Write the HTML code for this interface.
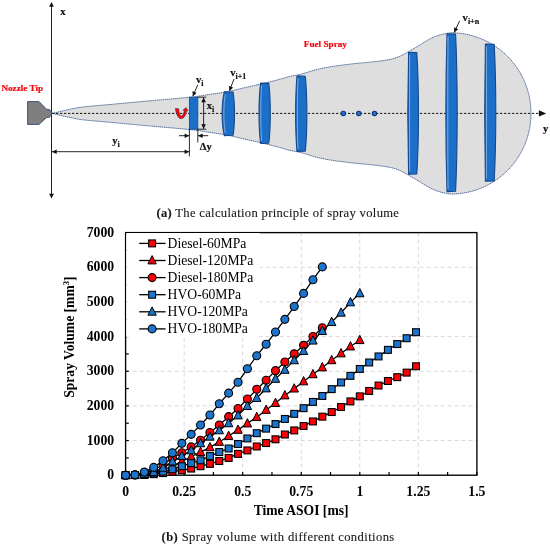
<!DOCTYPE html>
<html><head><meta charset="utf-8"><title>Spray volume</title>
<style>html,body{margin:0;padding:0;background:#fff}svg text{white-space:pre}</style></head>
<body>
<svg width="550" height="548" viewBox="0 0 550 548" style="display:block">
<rect width="550" height="548" fill="#fff"/>
<defs><marker id="ah" viewBox="0 0 10 10" refX="10" refY="5" markerWidth="5.2" markerHeight="4.6" markerUnits="userSpaceOnUse" orient="auto-start-reverse"><path d="M0,0L10,5L0,10Z" fill="#111"/></marker></defs>
<g font-family="'Liberation Serif',serif" font-weight="bold" stroke="#111" stroke-width="0">
<path d="M52.00,113.40 C53.00,113.17 55.92,112.48 58.00,112.00 C60.08,111.52 62.17,111.02 64.50,110.50 C66.83,109.98 68.97,109.48 72.00,108.90 C75.03,108.32 76.37,107.73 82.70,107.00 C89.03,106.27 98.78,105.53 110.00,104.50 C121.22,103.47 136.67,102.02 150.00,100.80 C163.33,99.58 180.00,98.27 190.00,97.20 C200.00,96.13 203.67,95.35 210.00,94.40 C216.33,93.45 222.00,92.67 228.00,91.50 C234.00,90.33 239.83,88.80 246.00,87.40 C252.17,86.00 259.33,84.47 265.00,83.10 C270.67,81.73 275.83,80.32 280.00,79.20 C284.17,78.08 286.50,77.23 290.00,76.40 C293.50,75.57 296.77,75.28 301.00,74.20 C305.23,73.12 310.90,71.07 315.40,69.90 C319.90,68.73 323.75,67.97 328.00,67.20 C332.25,66.43 336.73,65.87 340.90,65.30 C345.07,64.73 348.77,64.27 353.00,63.80 C357.23,63.33 361.80,62.97 366.30,62.50 C370.80,62.03 375.75,61.58 380.00,61.00 C384.25,60.42 388.47,59.80 391.80,59.00 C395.13,58.20 397.03,57.53 400.00,56.20 C402.97,54.87 406.27,52.88 409.60,51.00 C412.93,49.12 416.60,46.92 420.00,44.90 C423.40,42.88 426.67,40.57 430.00,38.90 C433.33,37.23 436.50,35.92 440.00,34.90 C443.50,33.88 448.00,33.10 451.00,32.80 C454.00,32.50 455.66,32.90 457.97,33.11 C460.29,33.31 462.60,33.62 464.89,34.02 C467.18,34.43 469.46,34.94 471.71,35.55 C473.95,36.15 476.18,36.86 478.36,37.66 C480.55,38.46 482.70,39.36 484.81,40.35 C486.92,41.34 488.99,42.43 491.00,43.60 C493.01,44.77 494.98,46.03 496.89,47.38 C498.79,48.72 500.64,50.15 502.42,51.66 C504.20,53.16 505.93,54.75 507.57,56.41 C509.21,58.06 510.79,59.80 512.28,61.59 C513.78,63.39 515.20,65.25 516.53,67.17 C517.87,69.09 519.12,71.07 520.28,73.10 C521.44,75.13 522.52,77.21 523.50,79.34 C524.49,81.46 525.38,83.63 526.18,85.83 C526.97,88.03 527.67,90.28 528.27,92.54 C528.88,94.80 529.38,97.10 529.78,99.40 C530.19,101.71 530.49,104.04 530.70,106.38 C530.90,108.71 531.00,111.06 531.00,113.40 C531.00,115.74 530.90,118.09 530.70,120.42 C530.49,122.76 530.19,125.09 529.78,127.40 C529.38,129.70 528.88,132.00 528.27,134.26 C527.67,136.52 526.97,138.77 526.18,140.97 C525.38,143.17 524.49,145.34 523.50,147.46 C522.52,149.59 521.44,151.67 520.28,153.70 C519.12,155.73 517.87,157.71 516.53,159.63 C515.20,161.55 513.78,163.41 512.28,165.21 C510.79,167.00 509.21,168.74 507.57,170.39 C505.93,172.05 504.20,173.64 502.42,175.14 C500.64,176.65 498.79,178.08 496.89,179.42 C494.98,180.77 493.01,182.03 491.00,183.20 C488.99,184.37 486.92,185.46 484.81,186.45 C482.70,187.44 480.55,188.34 478.36,189.14 C476.18,189.94 473.95,190.65 471.71,191.25 C469.46,191.86 467.18,192.37 464.89,192.78 C462.60,193.18 460.29,193.49 457.97,193.69 C455.66,193.90 454.00,194.30 451.00,194.00 C448.00,193.70 443.50,192.92 440.00,191.90 C436.50,190.88 433.33,189.57 430.00,187.90 C426.67,186.23 423.40,183.92 420.00,181.90 C416.60,179.88 412.93,177.68 409.60,175.80 C406.27,173.92 402.97,171.93 400.00,170.60 C397.03,169.27 395.13,168.60 391.80,167.80 C388.47,167.00 384.25,166.38 380.00,165.80 C375.75,165.22 370.80,164.77 366.30,164.30 C361.80,163.83 357.23,163.47 353.00,163.00 C348.77,162.53 345.07,162.07 340.90,161.50 C336.73,160.93 332.25,160.37 328.00,159.60 C323.75,158.83 319.90,158.07 315.40,156.90 C310.90,155.73 305.23,153.68 301.00,152.60 C296.77,151.52 293.50,151.23 290.00,150.40 C286.50,149.57 284.17,148.72 280.00,147.60 C275.83,146.48 270.67,145.07 265.00,143.70 C259.33,142.33 252.17,140.80 246.00,139.40 C239.83,138.00 234.00,136.47 228.00,135.30 C222.00,134.13 216.33,133.35 210.00,132.40 C203.67,131.45 200.00,130.67 190.00,129.60 C180.00,128.53 163.33,127.22 150.00,126.00 C136.67,124.78 121.22,123.33 110.00,122.30 C98.78,121.27 89.03,120.53 82.70,119.80 C76.37,119.07 75.03,118.48 72.00,117.90 C68.97,117.32 66.83,116.82 64.50,116.30 C62.17,115.78 60.08,115.28 58.00,114.80 C55.92,114.32 53.00,113.63 52.00,113.40Z" fill="#dedede" stroke="#34548a" stroke-width="0.8" stroke-dasharray="1.5,0.5"/>
<line x1="52" y1="113.4" x2="539" y2="113.4" stroke="#111" stroke-width="1" stroke-dasharray="2.3,1.7"/>
<path d="M546.2,113.4 L538.9,110.2 L538.9,116.6 Z" fill="#111"/>
<line x1="51.5" y1="6" x2="51.5" y2="194.5" stroke="#222" stroke-width="1"/>
<path d="M51.5,2 L49.1,6.7 L53.9,6.7 Z" fill="#111"/>
<path d="M51.5,198.4 L49.1,193.7 L53.9,193.7 Z" fill="#111"/>
<path d="M27.6,101.6 L39,101.6 L46.6,109.3 L49.5,109.6 L51.6,112.3 L51.6,114.5 L49.5,117.2 L46.6,117.5 L39,124.4 L27.6,124.4 Z" fill="#7f7f7f" stroke="#2c4a78" stroke-width="0.9" stroke-linejoin="round"/>
<rect x="189.4" y="97.2" width="8.4" height="32" fill="#1c6fc9" stroke="#1b4f8f" stroke-width="0.9"/>
<path d="M224.30,91.80 L233.10,92.10 C234.97,104.06 234.97,123.34 233.10,135.30 L224.30,135.60 C221.37,123.34 221.37,104.06 224.30,91.80 Z" fill="#1c6fc9" stroke="#17478a" stroke-width="1.1" stroke-linejoin="round"/><path d="M225.30,94.30 C223.37,104.94 223.37,122.46 225.30,133.10" fill="none" stroke="#8fbcec" stroke-width="0.8"/>
<path d="M260.60,83.10 L268.80,83.40 C270.80,100.01 270.80,126.59 268.80,143.20 L260.60,143.50 C258.47,126.59 258.47,100.01 260.60,83.10 Z" fill="#1c6fc9" stroke="#17478a" stroke-width="1.1" stroke-linejoin="round"/><path d="M261.60,85.60 C260.47,101.22 260.47,125.38 261.60,141.00" fill="none" stroke="#8fbcec" stroke-width="0.8"/>
<path d="M297.00,75.90 L305.30,76.20 C307.43,97.04 307.43,130.26 305.30,151.10 L297.00,151.40 C295.13,130.26 295.13,97.04 297.00,75.90 Z" fill="#1c6fc9" stroke="#17478a" stroke-width="1.1" stroke-linejoin="round"/><path d="M298.00,78.40 C297.13,98.55 297.13,128.75 298.00,148.90" fill="none" stroke="#8fbcec" stroke-width="0.8"/>
<path d="M408.60,52.20 L416.80,52.50 C419.07,86.39 419.07,140.11 416.80,174.00 L408.60,174.30 C407.67,140.11 407.67,86.39 408.60,52.20 Z" fill="#1c6fc9" stroke="#17478a" stroke-width="1.1" stroke-linejoin="round"/><path d="M409.60,54.70 C409.67,88.83 409.67,137.67 409.60,171.80" fill="none" stroke="#8fbcec" stroke-width="0.8"/>
<path d="M447.00,33.80 L455.60,34.10 C457.73,77.98 457.73,147.42 455.60,191.30 L447.00,191.60 C445.67,147.42 445.67,77.98 447.00,33.80 Z" fill="#1c6fc9" stroke="#17478a" stroke-width="1.1" stroke-linejoin="round"/><path d="M448.00,36.30 C447.67,81.14 447.67,144.26 448.00,189.10" fill="none" stroke="#8fbcec" stroke-width="0.8"/>
<path d="M485.40,44.00 L494.20,44.30 C496.33,82.42 496.33,142.78 494.20,180.90 L485.40,181.20 C484.60,142.78 484.60,82.42 485.40,44.00 Z" fill="#1c6fc9" stroke="#17478a" stroke-width="1.1" stroke-linejoin="round"/><path d="M486.40,46.50 C486.60,85.16 486.60,140.04 486.40,178.70" fill="none" stroke="#8fbcec" stroke-width="0.8"/>
<circle cx="343.3" cy="113.4" r="2.2" fill="#1e78dc" stroke="#14336e" stroke-width="1.1"/>
<circle cx="358.8" cy="113.4" r="2.2" fill="#1e78dc" stroke="#14336e" stroke-width="1.1"/>
<circle cx="374.5" cy="113.4" r="2.2" fill="#1e78dc" stroke="#14336e" stroke-width="1.1"/>
<g stroke="#111" stroke-width="0.9" fill="none">
<line x1="197.8" y1="97.2" x2="206.2" y2="97.2"/><line x1="197.8" y1="129.2" x2="206.2" y2="129.2"/>
<line x1="203.6" y1="97.6" x2="203.6" y2="128.8" marker-start="url(#ah)" marker-end="url(#ah)"/>
<line x1="189.4" y1="129" x2="189.4" y2="156.4"/><line x1="197.8" y1="129" x2="197.8" y2="142.4"/>
<line x1="179" y1="135.7" x2="189.2" y2="135.7" marker-end="url(#ah)"/>
<line x1="208.2" y1="135.7" x2="198" y2="135.7" marker-end="url(#ah)"/>
<line x1="52" y1="151.7" x2="189.2" y2="151.7" marker-start="url(#ah)" marker-end="url(#ah)"/>
<line x1="197.8" y1="84.8" x2="192.8" y2="96.2" marker-end="url(#ah)"/>
<line x1="234" y1="79" x2="229.4" y2="91" marker-end="url(#ah)"/>
<line x1="459.6" y1="20.8" x2="454.2" y2="32.4" marker-end="url(#ah)"/>
</g>
<path d="M175.3,108.4 C175.9,113.6 178.4,118.7 181,118.7 C183.6,118.7 186.1,115.2 186.7,110.7 L188.1,110.9 L186.1,107.6 L182.8,110.3 L184.3,110.5 C183.9,113.4 182.6,115.8 181,116.2 C179.7,115.4 178.9,112 178.7,108.7 Z" fill="#ff0000" stroke="#1f3864" stroke-width="0.5" stroke-linejoin="round"/>
<text x="60.3" y="14.9" font-size="10.6" fill="#111" stroke-width="0.18">x</text>
<text x="543" y="132.2" font-size="10.6" fill="#111" stroke-width="0.18">y</text>
<text x="1.4" y="91" font-size="9.2" fill="#f4060c" stroke="#f4060c" stroke-width="0.2">Nozzle Tip</text>
<text x="303.8" y="46.6" font-size="9.2" fill="#f4060c" stroke="#f4060c" stroke-width="0.2">Fuel Spray</text>
<text x="112.2" y="143.6" font-size="10.6" fill="#111" stroke-width="0.18">y<tspan font-size="8" dy="2.9">i</tspan></text>
<text x="196" y="83.1" font-size="10.6" fill="#111" stroke-width="0.18">v<tspan font-size="8" dy="2.9">i</tspan></text>
<text x="206.8" y="109.4" font-size="10.6" fill="#111" stroke-width="0.18">x<tspan font-size="8" dy="2.9">i</tspan></text>
<text x="199.8" y="150.1" font-size="10.6" fill="#111" stroke-width="0.18">Δy</text>
<text x="230.2" y="75.7" font-size="10.6" fill="#111" stroke-width="0.18">v<tspan font-size="8" dy="2.9">i+1</tspan></text>
<text x="462.6" y="20.7" font-size="10.6" fill="#111" stroke-width="0.18">v<tspan font-size="8" dy="2.9">i+n</tspan></text>
</g>
<g font-family="'Liberation Serif',serif">
<g stroke="#d9d9d9" stroke-width="1" stroke-dasharray="4,3" fill="none">
<line x1="125.6" y1="440.54" x2="476.9" y2="440.54"/>
<line x1="125.6" y1="405.89" x2="476.9" y2="405.89"/>
<line x1="125.6" y1="371.23" x2="476.9" y2="371.23"/>
<line x1="125.6" y1="336.57" x2="476.9" y2="336.57"/>
<line x1="125.6" y1="301.91" x2="476.9" y2="301.91"/>
<line x1="125.6" y1="267.26" x2="476.9" y2="267.26"/>
<line x1="184.15" y1="232.6" x2="184.15" y2="475.2"/>
<line x1="242.70" y1="232.6" x2="242.70" y2="475.2"/>
<line x1="301.25" y1="232.6" x2="301.25" y2="475.2"/>
<line x1="359.80" y1="232.6" x2="359.80" y2="475.2"/>
<line x1="418.35" y1="232.6" x2="418.35" y2="475.2"/>
</g>
<g stroke="#000" stroke-width="1.2">
<line x1="125.6" y1="475.20" x2="128.8" y2="475.20"/>
<line x1="125.6" y1="457.87" x2="128.8" y2="457.87"/>
<line x1="125.6" y1="440.54" x2="128.8" y2="440.54"/>
<line x1="125.6" y1="423.21" x2="128.8" y2="423.21"/>
<line x1="125.6" y1="405.89" x2="128.8" y2="405.89"/>
<line x1="125.6" y1="388.56" x2="128.8" y2="388.56"/>
<line x1="125.6" y1="371.23" x2="128.8" y2="371.23"/>
<line x1="125.6" y1="353.90" x2="128.8" y2="353.90"/>
<line x1="125.6" y1="336.57" x2="128.8" y2="336.57"/>
<line x1="125.6" y1="319.24" x2="128.8" y2="319.24"/>
<line x1="125.6" y1="301.91" x2="128.8" y2="301.91"/>
<line x1="125.6" y1="284.59" x2="128.8" y2="284.59"/>
<line x1="125.6" y1="267.26" x2="128.8" y2="267.26"/>
<line x1="125.6" y1="249.93" x2="128.8" y2="249.93"/>
<line x1="125.6" y1="232.60" x2="128.8" y2="232.60"/>
<line x1="125.60" y1="475.2" x2="125.60" y2="472.0"/>
<line x1="154.88" y1="475.2" x2="154.88" y2="472.0"/>
<line x1="184.15" y1="475.2" x2="184.15" y2="472.0"/>
<line x1="213.42" y1="475.2" x2="213.42" y2="472.0"/>
<line x1="242.70" y1="475.2" x2="242.70" y2="472.0"/>
<line x1="271.97" y1="475.2" x2="271.97" y2="472.0"/>
<line x1="301.25" y1="475.2" x2="301.25" y2="472.0"/>
<line x1="330.52" y1="475.2" x2="330.52" y2="472.0"/>
<line x1="359.80" y1="475.2" x2="359.80" y2="472.0"/>
<line x1="389.07" y1="475.2" x2="389.07" y2="472.0"/>
<line x1="418.35" y1="475.2" x2="418.35" y2="472.0"/>
<line x1="447.62" y1="475.2" x2="447.62" y2="472.0"/>
<line x1="476.90" y1="475.2" x2="476.90" y2="472.0"/>
</g>
<rect x="125.6" y="232.6" width="351.3" height="242.6" fill="none" stroke="#000" stroke-width="1.35"/>
<polyline points="125.60,475.20 134.97,475.10 144.34,474.85 153.70,474.16 163.07,473.12 172.44,471.73 181.81,470.24 191.18,468.58 200.54,466.22 209.91,463.87 219.28,461.03 228.65,457.94 238.02,453.89 247.38,450.42 256.75,446.47 266.12,443.07 275.49,439.30 284.86,434.51 294.22,430.42 303.59,426.02 312.96,421.45 322.33,416.66 331.70,412.05 341.06,406.99 350.43,401.38 359.80,396.36 369.17,390.98 378.54,385.54 387.90,381.00 397.27,377.15 406.64,372.61 416.01,366.27" fill="none" stroke="#000" stroke-width="1.3"/>
<rect x="122.15" y="471.75" width="6.9" height="6.9" fill="#fb0007" stroke="#000" stroke-width="1.1"/>
<rect x="131.52" y="471.65" width="6.9" height="6.9" fill="#fb0007" stroke="#000" stroke-width="1.1"/>
<rect x="140.89" y="471.40" width="6.9" height="6.9" fill="#fb0007" stroke="#000" stroke-width="1.1"/>
<rect x="150.25" y="470.71" width="6.9" height="6.9" fill="#fb0007" stroke="#000" stroke-width="1.1"/>
<rect x="159.62" y="469.67" width="6.9" height="6.9" fill="#fb0007" stroke="#000" stroke-width="1.1"/>
<rect x="168.99" y="468.28" width="6.9" height="6.9" fill="#fb0007" stroke="#000" stroke-width="1.1"/>
<rect x="178.36" y="466.79" width="6.9" height="6.9" fill="#fb0007" stroke="#000" stroke-width="1.1"/>
<rect x="187.73" y="465.13" width="6.9" height="6.9" fill="#fb0007" stroke="#000" stroke-width="1.1"/>
<rect x="197.09" y="462.77" width="6.9" height="6.9" fill="#fb0007" stroke="#000" stroke-width="1.1"/>
<rect x="206.46" y="460.42" width="6.9" height="6.9" fill="#fb0007" stroke="#000" stroke-width="1.1"/>
<rect x="215.83" y="457.58" width="6.9" height="6.9" fill="#fb0007" stroke="#000" stroke-width="1.1"/>
<rect x="225.20" y="454.49" width="6.9" height="6.9" fill="#fb0007" stroke="#000" stroke-width="1.1"/>
<rect x="234.57" y="450.44" width="6.9" height="6.9" fill="#fb0007" stroke="#000" stroke-width="1.1"/>
<rect x="243.93" y="446.97" width="6.9" height="6.9" fill="#fb0007" stroke="#000" stroke-width="1.1"/>
<rect x="253.30" y="443.02" width="6.9" height="6.9" fill="#fb0007" stroke="#000" stroke-width="1.1"/>
<rect x="262.67" y="439.62" width="6.9" height="6.9" fill="#fb0007" stroke="#000" stroke-width="1.1"/>
<rect x="272.04" y="435.85" width="6.9" height="6.9" fill="#fb0007" stroke="#000" stroke-width="1.1"/>
<rect x="281.41" y="431.06" width="6.9" height="6.9" fill="#fb0007" stroke="#000" stroke-width="1.1"/>
<rect x="290.77" y="426.97" width="6.9" height="6.9" fill="#fb0007" stroke="#000" stroke-width="1.1"/>
<rect x="300.14" y="422.57" width="6.9" height="6.9" fill="#fb0007" stroke="#000" stroke-width="1.1"/>
<rect x="309.51" y="418.00" width="6.9" height="6.9" fill="#fb0007" stroke="#000" stroke-width="1.1"/>
<rect x="318.88" y="413.21" width="6.9" height="6.9" fill="#fb0007" stroke="#000" stroke-width="1.1"/>
<rect x="328.25" y="408.60" width="6.9" height="6.9" fill="#fb0007" stroke="#000" stroke-width="1.1"/>
<rect x="337.61" y="403.54" width="6.9" height="6.9" fill="#fb0007" stroke="#000" stroke-width="1.1"/>
<rect x="346.98" y="397.93" width="6.9" height="6.9" fill="#fb0007" stroke="#000" stroke-width="1.1"/>
<rect x="356.35" y="392.91" width="6.9" height="6.9" fill="#fb0007" stroke="#000" stroke-width="1.1"/>
<rect x="365.72" y="387.53" width="6.9" height="6.9" fill="#fb0007" stroke="#000" stroke-width="1.1"/>
<rect x="375.09" y="382.09" width="6.9" height="6.9" fill="#fb0007" stroke="#000" stroke-width="1.1"/>
<rect x="384.45" y="377.55" width="6.9" height="6.9" fill="#fb0007" stroke="#000" stroke-width="1.1"/>
<rect x="393.82" y="373.70" width="6.9" height="6.9" fill="#fb0007" stroke="#000" stroke-width="1.1"/>
<rect x="403.19" y="369.16" width="6.9" height="6.9" fill="#fb0007" stroke="#000" stroke-width="1.1"/>
<rect x="412.56" y="362.82" width="6.9" height="6.9" fill="#fb0007" stroke="#000" stroke-width="1.1"/>
<polyline points="125.60,475.20 134.97,475.03 144.34,474.33 153.70,472.77 163.07,470.00 172.44,466.19 181.81,461.51 191.18,456.76 200.54,452.05 209.91,447.37 219.28,441.93 228.65,436.04 238.02,429.90 247.38,423.53 256.75,417.15 266.12,409.98 275.49,403.11 284.86,395.49 294.22,388.63 303.59,381.45 312.96,374.35 322.33,367.49 331.70,360.31 341.06,353.45 350.43,346.55 359.80,340.18" fill="none" stroke="#000" stroke-width="1.3"/>
<path d="M125.60,470.30 L129.80,478.60 L121.40,478.60 Z" fill="#fb0007" stroke="#000" stroke-width="1" stroke-linejoin="miter"/>
<path d="M134.97,470.13 L139.17,478.43 L130.77,478.43 Z" fill="#fb0007" stroke="#000" stroke-width="1" stroke-linejoin="miter"/>
<path d="M144.34,469.43 L148.54,477.73 L140.14,477.73 Z" fill="#fb0007" stroke="#000" stroke-width="1" stroke-linejoin="miter"/>
<path d="M153.70,467.87 L157.90,476.17 L149.50,476.17 Z" fill="#fb0007" stroke="#000" stroke-width="1" stroke-linejoin="miter"/>
<path d="M163.07,465.10 L167.27,473.40 L158.87,473.40 Z" fill="#fb0007" stroke="#000" stroke-width="1" stroke-linejoin="miter"/>
<path d="M172.44,461.29 L176.64,469.59 L168.24,469.59 Z" fill="#fb0007" stroke="#000" stroke-width="1" stroke-linejoin="miter"/>
<path d="M181.81,456.61 L186.01,464.91 L177.61,464.91 Z" fill="#fb0007" stroke="#000" stroke-width="1" stroke-linejoin="miter"/>
<path d="M191.18,451.86 L195.38,460.16 L186.98,460.16 Z" fill="#fb0007" stroke="#000" stroke-width="1" stroke-linejoin="miter"/>
<path d="M200.54,447.15 L204.74,455.45 L196.34,455.45 Z" fill="#fb0007" stroke="#000" stroke-width="1" stroke-linejoin="miter"/>
<path d="M209.91,442.47 L214.11,450.77 L205.71,450.77 Z" fill="#fb0007" stroke="#000" stroke-width="1" stroke-linejoin="miter"/>
<path d="M219.28,437.03 L223.48,445.33 L215.08,445.33 Z" fill="#fb0007" stroke="#000" stroke-width="1" stroke-linejoin="miter"/>
<path d="M228.65,431.14 L232.85,439.44 L224.45,439.44 Z" fill="#fb0007" stroke="#000" stroke-width="1" stroke-linejoin="miter"/>
<path d="M238.02,425.00 L242.22,433.30 L233.82,433.30 Z" fill="#fb0007" stroke="#000" stroke-width="1" stroke-linejoin="miter"/>
<path d="M247.38,418.63 L251.58,426.93 L243.18,426.93 Z" fill="#fb0007" stroke="#000" stroke-width="1" stroke-linejoin="miter"/>
<path d="M256.75,412.25 L260.95,420.55 L252.55,420.55 Z" fill="#fb0007" stroke="#000" stroke-width="1" stroke-linejoin="miter"/>
<path d="M266.12,405.08 L270.32,413.38 L261.92,413.38 Z" fill="#fb0007" stroke="#000" stroke-width="1" stroke-linejoin="miter"/>
<path d="M275.49,398.21 L279.69,406.51 L271.29,406.51 Z" fill="#fb0007" stroke="#000" stroke-width="1" stroke-linejoin="miter"/>
<path d="M284.86,390.59 L289.06,398.89 L280.66,398.89 Z" fill="#fb0007" stroke="#000" stroke-width="1" stroke-linejoin="miter"/>
<path d="M294.22,383.73 L298.42,392.03 L290.02,392.03 Z" fill="#fb0007" stroke="#000" stroke-width="1" stroke-linejoin="miter"/>
<path d="M303.59,376.55 L307.79,384.85 L299.39,384.85 Z" fill="#fb0007" stroke="#000" stroke-width="1" stroke-linejoin="miter"/>
<path d="M312.96,369.45 L317.16,377.75 L308.76,377.75 Z" fill="#fb0007" stroke="#000" stroke-width="1" stroke-linejoin="miter"/>
<path d="M322.33,362.59 L326.53,370.89 L318.13,370.89 Z" fill="#fb0007" stroke="#000" stroke-width="1" stroke-linejoin="miter"/>
<path d="M331.70,355.41 L335.90,363.71 L327.50,363.71 Z" fill="#fb0007" stroke="#000" stroke-width="1" stroke-linejoin="miter"/>
<path d="M341.06,348.55 L345.26,356.85 L336.86,356.85 Z" fill="#fb0007" stroke="#000" stroke-width="1" stroke-linejoin="miter"/>
<path d="M350.43,341.65 L354.63,349.95 L346.23,349.95 Z" fill="#fb0007" stroke="#000" stroke-width="1" stroke-linejoin="miter"/>
<path d="M359.80,335.28 L364.00,343.58 L355.60,343.58 Z" fill="#fb0007" stroke="#000" stroke-width="1" stroke-linejoin="miter"/>
<polyline points="125.60,475.20 134.97,474.92 144.34,473.47 153.70,470.00 163.07,464.80 172.44,457.94 181.81,452.78 191.18,446.89 200.54,440.30 209.91,432.50 219.28,424.95 228.65,416.66 238.02,408.49 247.38,399.02 256.75,389.32 266.12,380.24 275.49,370.67 284.86,362.01 294.22,353.83 303.59,345.34 312.96,336.57 322.33,327.80" fill="none" stroke="#000" stroke-width="1.3"/>
<circle cx="125.60" cy="475.20" r="4.0" fill="#fb0007" stroke="#000" stroke-width="1.1"/>
<circle cx="134.97" cy="474.92" r="4.0" fill="#fb0007" stroke="#000" stroke-width="1.1"/>
<circle cx="144.34" cy="473.47" r="4.0" fill="#fb0007" stroke="#000" stroke-width="1.1"/>
<circle cx="153.70" cy="470.00" r="4.0" fill="#fb0007" stroke="#000" stroke-width="1.1"/>
<circle cx="163.07" cy="464.80" r="4.0" fill="#fb0007" stroke="#000" stroke-width="1.1"/>
<circle cx="172.44" cy="457.94" r="4.0" fill="#fb0007" stroke="#000" stroke-width="1.1"/>
<circle cx="181.81" cy="452.78" r="4.0" fill="#fb0007" stroke="#000" stroke-width="1.1"/>
<circle cx="191.18" cy="446.89" r="4.0" fill="#fb0007" stroke="#000" stroke-width="1.1"/>
<circle cx="200.54" cy="440.30" r="4.0" fill="#fb0007" stroke="#000" stroke-width="1.1"/>
<circle cx="209.91" cy="432.50" r="4.0" fill="#fb0007" stroke="#000" stroke-width="1.1"/>
<circle cx="219.28" cy="424.95" r="4.0" fill="#fb0007" stroke="#000" stroke-width="1.1"/>
<circle cx="228.65" cy="416.66" r="4.0" fill="#fb0007" stroke="#000" stroke-width="1.1"/>
<circle cx="238.02" cy="408.49" r="4.0" fill="#fb0007" stroke="#000" stroke-width="1.1"/>
<circle cx="247.38" cy="399.02" r="4.0" fill="#fb0007" stroke="#000" stroke-width="1.1"/>
<circle cx="256.75" cy="389.32" r="4.0" fill="#fb0007" stroke="#000" stroke-width="1.1"/>
<circle cx="266.12" cy="380.24" r="4.0" fill="#fb0007" stroke="#000" stroke-width="1.1"/>
<circle cx="275.49" cy="370.67" r="4.0" fill="#fb0007" stroke="#000" stroke-width="1.1"/>
<circle cx="284.86" cy="362.01" r="4.0" fill="#fb0007" stroke="#000" stroke-width="1.1"/>
<circle cx="294.22" cy="353.83" r="4.0" fill="#fb0007" stroke="#000" stroke-width="1.1"/>
<circle cx="303.59" cy="345.34" r="4.0" fill="#fb0007" stroke="#000" stroke-width="1.1"/>
<circle cx="312.96" cy="336.57" r="4.0" fill="#fb0007" stroke="#000" stroke-width="1.1"/>
<circle cx="322.33" cy="327.80" r="4.0" fill="#fb0007" stroke="#000" stroke-width="1.1"/>
<polyline points="125.60,475.20 134.97,475.03 144.34,474.51 153.70,473.47 163.07,471.73 172.44,469.31 181.81,466.22 191.18,463.14 200.54,460.30 209.91,456.07 219.28,452.05 228.65,448.51 238.02,444.01 247.38,438.46 256.75,433.20 266.12,428.62 275.49,424.05 284.86,418.95 294.22,413.86 303.59,408.17 312.96,401.90 322.33,396.01 331.70,389.15 341.06,382.49 350.43,375.87 359.80,368.94 369.17,362.49 378.54,356.43 387.90,349.85 397.27,344.06 406.64,338.23 416.01,332.20" fill="none" stroke="#000" stroke-width="1.3"/>
<rect x="122.15" y="471.75" width="6.9" height="6.9" fill="#1c74cc" stroke="#000" stroke-width="1.1"/>
<rect x="131.52" y="471.58" width="6.9" height="6.9" fill="#1c74cc" stroke="#000" stroke-width="1.1"/>
<rect x="140.89" y="471.06" width="6.9" height="6.9" fill="#1c74cc" stroke="#000" stroke-width="1.1"/>
<rect x="150.25" y="470.02" width="6.9" height="6.9" fill="#1c74cc" stroke="#000" stroke-width="1.1"/>
<rect x="159.62" y="468.28" width="6.9" height="6.9" fill="#1c74cc" stroke="#000" stroke-width="1.1"/>
<rect x="168.99" y="465.86" width="6.9" height="6.9" fill="#1c74cc" stroke="#000" stroke-width="1.1"/>
<rect x="178.36" y="462.77" width="6.9" height="6.9" fill="#1c74cc" stroke="#000" stroke-width="1.1"/>
<rect x="187.73" y="459.69" width="6.9" height="6.9" fill="#1c74cc" stroke="#000" stroke-width="1.1"/>
<rect x="197.09" y="456.85" width="6.9" height="6.9" fill="#1c74cc" stroke="#000" stroke-width="1.1"/>
<rect x="206.46" y="452.62" width="6.9" height="6.9" fill="#1c74cc" stroke="#000" stroke-width="1.1"/>
<rect x="215.83" y="448.60" width="6.9" height="6.9" fill="#1c74cc" stroke="#000" stroke-width="1.1"/>
<rect x="225.20" y="445.06" width="6.9" height="6.9" fill="#1c74cc" stroke="#000" stroke-width="1.1"/>
<rect x="234.57" y="440.56" width="6.9" height="6.9" fill="#1c74cc" stroke="#000" stroke-width="1.1"/>
<rect x="243.93" y="435.01" width="6.9" height="6.9" fill="#1c74cc" stroke="#000" stroke-width="1.1"/>
<rect x="253.30" y="429.75" width="6.9" height="6.9" fill="#1c74cc" stroke="#000" stroke-width="1.1"/>
<rect x="262.67" y="425.17" width="6.9" height="6.9" fill="#1c74cc" stroke="#000" stroke-width="1.1"/>
<rect x="272.04" y="420.60" width="6.9" height="6.9" fill="#1c74cc" stroke="#000" stroke-width="1.1"/>
<rect x="281.41" y="415.50" width="6.9" height="6.9" fill="#1c74cc" stroke="#000" stroke-width="1.1"/>
<rect x="290.77" y="410.41" width="6.9" height="6.9" fill="#1c74cc" stroke="#000" stroke-width="1.1"/>
<rect x="300.14" y="404.72" width="6.9" height="6.9" fill="#1c74cc" stroke="#000" stroke-width="1.1"/>
<rect x="309.51" y="398.45" width="6.9" height="6.9" fill="#1c74cc" stroke="#000" stroke-width="1.1"/>
<rect x="318.88" y="392.56" width="6.9" height="6.9" fill="#1c74cc" stroke="#000" stroke-width="1.1"/>
<rect x="328.25" y="385.70" width="6.9" height="6.9" fill="#1c74cc" stroke="#000" stroke-width="1.1"/>
<rect x="337.61" y="379.04" width="6.9" height="6.9" fill="#1c74cc" stroke="#000" stroke-width="1.1"/>
<rect x="346.98" y="372.42" width="6.9" height="6.9" fill="#1c74cc" stroke="#000" stroke-width="1.1"/>
<rect x="356.35" y="365.49" width="6.9" height="6.9" fill="#1c74cc" stroke="#000" stroke-width="1.1"/>
<rect x="365.72" y="359.04" width="6.9" height="6.9" fill="#1c74cc" stroke="#000" stroke-width="1.1"/>
<rect x="375.09" y="352.98" width="6.9" height="6.9" fill="#1c74cc" stroke="#000" stroke-width="1.1"/>
<rect x="384.45" y="346.40" width="6.9" height="6.9" fill="#1c74cc" stroke="#000" stroke-width="1.1"/>
<rect x="393.82" y="340.61" width="6.9" height="6.9" fill="#1c74cc" stroke="#000" stroke-width="1.1"/>
<rect x="403.19" y="334.78" width="6.9" height="6.9" fill="#1c74cc" stroke="#000" stroke-width="1.1"/>
<rect x="412.56" y="328.75" width="6.9" height="6.9" fill="#1c74cc" stroke="#000" stroke-width="1.1"/>
<polyline points="125.60,475.20 134.97,475.03 144.34,474.16 153.70,472.08 163.07,467.89 172.44,461.51 181.81,456.07 191.18,450.42 200.54,443.35 209.91,436.73 219.28,430.39 228.65,423.32 238.02,415.52 247.38,406.09 256.75,398.05 266.12,388.49 275.49,378.92 284.86,369.91 294.22,360.35 303.59,351.06 312.96,340.66 322.33,331.10 331.70,322.08 341.06,312.80 350.43,302.40 359.80,293.39" fill="none" stroke="#000" stroke-width="1.3"/>
<path d="M125.60,470.30 L129.80,478.60 L121.40,478.60 Z" fill="#1c74cc" stroke="#000" stroke-width="1" stroke-linejoin="miter"/>
<path d="M134.97,470.13 L139.17,478.43 L130.77,478.43 Z" fill="#1c74cc" stroke="#000" stroke-width="1" stroke-linejoin="miter"/>
<path d="M144.34,469.26 L148.54,477.56 L140.14,477.56 Z" fill="#1c74cc" stroke="#000" stroke-width="1" stroke-linejoin="miter"/>
<path d="M153.70,467.18 L157.90,475.48 L149.50,475.48 Z" fill="#1c74cc" stroke="#000" stroke-width="1" stroke-linejoin="miter"/>
<path d="M163.07,462.99 L167.27,471.29 L158.87,471.29 Z" fill="#1c74cc" stroke="#000" stroke-width="1" stroke-linejoin="miter"/>
<path d="M172.44,456.61 L176.64,464.91 L168.24,464.91 Z" fill="#1c74cc" stroke="#000" stroke-width="1" stroke-linejoin="miter"/>
<path d="M181.81,451.17 L186.01,459.47 L177.61,459.47 Z" fill="#1c74cc" stroke="#000" stroke-width="1" stroke-linejoin="miter"/>
<path d="M191.18,445.52 L195.38,453.82 L186.98,453.82 Z" fill="#1c74cc" stroke="#000" stroke-width="1" stroke-linejoin="miter"/>
<path d="M200.54,438.45 L204.74,446.75 L196.34,446.75 Z" fill="#1c74cc" stroke="#000" stroke-width="1" stroke-linejoin="miter"/>
<path d="M209.91,431.83 L214.11,440.13 L205.71,440.13 Z" fill="#1c74cc" stroke="#000" stroke-width="1" stroke-linejoin="miter"/>
<path d="M219.28,425.49 L223.48,433.79 L215.08,433.79 Z" fill="#1c74cc" stroke="#000" stroke-width="1" stroke-linejoin="miter"/>
<path d="M228.65,418.42 L232.85,426.72 L224.45,426.72 Z" fill="#1c74cc" stroke="#000" stroke-width="1" stroke-linejoin="miter"/>
<path d="M238.02,410.62 L242.22,418.92 L233.82,418.92 Z" fill="#1c74cc" stroke="#000" stroke-width="1" stroke-linejoin="miter"/>
<path d="M247.38,401.19 L251.58,409.49 L243.18,409.49 Z" fill="#1c74cc" stroke="#000" stroke-width="1" stroke-linejoin="miter"/>
<path d="M256.75,393.15 L260.95,401.45 L252.55,401.45 Z" fill="#1c74cc" stroke="#000" stroke-width="1" stroke-linejoin="miter"/>
<path d="M266.12,383.59 L270.32,391.89 L261.92,391.89 Z" fill="#1c74cc" stroke="#000" stroke-width="1" stroke-linejoin="miter"/>
<path d="M275.49,374.02 L279.69,382.32 L271.29,382.32 Z" fill="#1c74cc" stroke="#000" stroke-width="1" stroke-linejoin="miter"/>
<path d="M284.86,365.01 L289.06,373.31 L280.66,373.31 Z" fill="#1c74cc" stroke="#000" stroke-width="1" stroke-linejoin="miter"/>
<path d="M294.22,355.45 L298.42,363.75 L290.02,363.75 Z" fill="#1c74cc" stroke="#000" stroke-width="1" stroke-linejoin="miter"/>
<path d="M303.59,346.16 L307.79,354.46 L299.39,354.46 Z" fill="#1c74cc" stroke="#000" stroke-width="1" stroke-linejoin="miter"/>
<path d="M312.96,335.76 L317.16,344.06 L308.76,344.06 Z" fill="#1c74cc" stroke="#000" stroke-width="1" stroke-linejoin="miter"/>
<path d="M322.33,326.20 L326.53,334.50 L318.13,334.50 Z" fill="#1c74cc" stroke="#000" stroke-width="1" stroke-linejoin="miter"/>
<path d="M331.70,317.18 L335.90,325.48 L327.50,325.48 Z" fill="#1c74cc" stroke="#000" stroke-width="1" stroke-linejoin="miter"/>
<path d="M341.06,307.90 L345.26,316.20 L336.86,316.20 Z" fill="#1c74cc" stroke="#000" stroke-width="1" stroke-linejoin="miter"/>
<path d="M350.43,297.50 L354.63,305.80 L346.23,305.80 Z" fill="#1c74cc" stroke="#000" stroke-width="1" stroke-linejoin="miter"/>
<path d="M359.80,288.49 L364.00,296.79 L355.60,296.79 Z" fill="#1c74cc" stroke="#000" stroke-width="1" stroke-linejoin="miter"/>
<polyline points="125.60,475.20 134.97,474.85 144.34,472.08 153.70,467.40 163.07,460.82 172.44,452.78 181.81,443.35 191.18,434.37 200.54,424.95 209.91,415.07 219.28,403.74 228.65,393.13 238.02,382.21 247.38,368.80 256.75,355.70 266.12,344.23 275.49,331.93 284.86,319.35 294.22,306.52 303.59,293.39 312.96,279.73 322.33,266.88" fill="none" stroke="#000" stroke-width="1.3"/>
<circle cx="125.60" cy="475.20" r="4.0" fill="#1c74cc" stroke="#000" stroke-width="1.1"/>
<circle cx="134.97" cy="474.85" r="4.0" fill="#1c74cc" stroke="#000" stroke-width="1.1"/>
<circle cx="144.34" cy="472.08" r="4.0" fill="#1c74cc" stroke="#000" stroke-width="1.1"/>
<circle cx="153.70" cy="467.40" r="4.0" fill="#1c74cc" stroke="#000" stroke-width="1.1"/>
<circle cx="163.07" cy="460.82" r="4.0" fill="#1c74cc" stroke="#000" stroke-width="1.1"/>
<circle cx="172.44" cy="452.78" r="4.0" fill="#1c74cc" stroke="#000" stroke-width="1.1"/>
<circle cx="181.81" cy="443.35" r="4.0" fill="#1c74cc" stroke="#000" stroke-width="1.1"/>
<circle cx="191.18" cy="434.37" r="4.0" fill="#1c74cc" stroke="#000" stroke-width="1.1"/>
<circle cx="200.54" cy="424.95" r="4.0" fill="#1c74cc" stroke="#000" stroke-width="1.1"/>
<circle cx="209.91" cy="415.07" r="4.0" fill="#1c74cc" stroke="#000" stroke-width="1.1"/>
<circle cx="219.28" cy="403.74" r="4.0" fill="#1c74cc" stroke="#000" stroke-width="1.1"/>
<circle cx="228.65" cy="393.13" r="4.0" fill="#1c74cc" stroke="#000" stroke-width="1.1"/>
<circle cx="238.02" cy="382.21" r="4.0" fill="#1c74cc" stroke="#000" stroke-width="1.1"/>
<circle cx="247.38" cy="368.80" r="4.0" fill="#1c74cc" stroke="#000" stroke-width="1.1"/>
<circle cx="256.75" cy="355.70" r="4.0" fill="#1c74cc" stroke="#000" stroke-width="1.1"/>
<circle cx="266.12" cy="344.23" r="4.0" fill="#1c74cc" stroke="#000" stroke-width="1.1"/>
<circle cx="275.49" cy="331.93" r="4.0" fill="#1c74cc" stroke="#000" stroke-width="1.1"/>
<circle cx="284.86" cy="319.35" r="4.0" fill="#1c74cc" stroke="#000" stroke-width="1.1"/>
<circle cx="294.22" cy="306.52" r="4.0" fill="#1c74cc" stroke="#000" stroke-width="1.1"/>
<circle cx="303.59" cy="293.39" r="4.0" fill="#1c74cc" stroke="#000" stroke-width="1.1"/>
<circle cx="312.96" cy="279.73" r="4.0" fill="#1c74cc" stroke="#000" stroke-width="1.1"/>
<circle cx="322.33" cy="266.88" r="4.0" fill="#1c74cc" stroke="#000" stroke-width="1.1"/>
<rect x="126.3" y="233" width="133.3" height="104" fill="#fff"/>
<line x1="139.2" y1="243.40" x2="165.6" y2="243.40" stroke="#000" stroke-width="1.3"/>
<rect x="148.65" y="239.95" width="6.9" height="6.9" fill="#fb0007" stroke="#000" stroke-width="1.1"/>
<text x="167.6" y="247.70" font-size="13.65" fill="#000">Diesel-60MPa</text>
<line x1="139.2" y1="260.50" x2="165.6" y2="260.50" stroke="#000" stroke-width="1.3"/>
<path d="M152.10,255.60 L156.30,263.90 L147.90,263.90 Z" fill="#fb0007" stroke="#000" stroke-width="1" stroke-linejoin="miter"/>
<text x="167.6" y="264.80" font-size="13.65" fill="#000">Diesel-120MPa</text>
<line x1="139.2" y1="277.60" x2="165.6" y2="277.60" stroke="#000" stroke-width="1.3"/>
<circle cx="152.10" cy="277.60" r="4.0" fill="#fb0007" stroke="#000" stroke-width="1.1"/>
<text x="167.6" y="281.90" font-size="13.65" fill="#000">Diesel-180MPa</text>
<line x1="139.2" y1="294.70" x2="165.6" y2="294.70" stroke="#000" stroke-width="1.3"/>
<rect x="148.65" y="291.25" width="6.9" height="6.9" fill="#1c74cc" stroke="#000" stroke-width="1.1"/>
<text x="167.6" y="299.00" font-size="13.65" fill="#000">HVO-60MPa</text>
<line x1="139.2" y1="311.80" x2="165.6" y2="311.80" stroke="#000" stroke-width="1.3"/>
<path d="M152.10,306.90 L156.30,315.20 L147.90,315.20 Z" fill="#1c74cc" stroke="#000" stroke-width="1" stroke-linejoin="miter"/>
<text x="167.6" y="316.10" font-size="13.65" fill="#000">HVO-120MPa</text>
<line x1="139.2" y1="328.90" x2="165.6" y2="328.90" stroke="#000" stroke-width="1.3"/>
<circle cx="152.10" cy="328.90" r="4.0" fill="#1c74cc" stroke="#000" stroke-width="1.1"/>
<text x="167.6" y="333.20" font-size="13.65" fill="#000">HVO-180MPa</text>
<g font-weight="bold" font-size="13.7" fill="#000">
<text x="114.1" y="479.40" text-anchor="end">0</text>
<text x="114.1" y="444.74" text-anchor="end">1000</text>
<text x="114.1" y="410.09" text-anchor="end">2000</text>
<text x="114.1" y="375.43" text-anchor="end">3000</text>
<text x="114.1" y="340.77" text-anchor="end">4000</text>
<text x="114.1" y="306.11" text-anchor="end">5000</text>
<text x="114.1" y="271.46" text-anchor="end">6000</text>
<text x="114.1" y="236.80" text-anchor="end">7000</text>
<text x="125.60" y="495.9" text-anchor="middle">0</text>
<text x="184.15" y="495.9" text-anchor="middle">0.25</text>
<text x="242.70" y="495.9" text-anchor="middle">0.5</text>
<text x="301.25" y="495.9" text-anchor="middle">0.75</text>
<text x="359.80" y="495.9" text-anchor="middle">1</text>
<text x="418.35" y="495.9" text-anchor="middle">1.25</text>
<text x="476.90" y="495.9" text-anchor="middle">1.5</text>
</g>
<text x="301.1" y="515.4" font-size="13.6" font-weight="bold" text-anchor="middle" fill="#000">Time ASOI [ms]</text>
<text transform="translate(73.5,337.1) rotate(-90)" font-size="13.6" font-weight="bold" text-anchor="middle" fill="#000">Spray Volume [mm<tspan font-size="8.6" dy="-4.8">3</tspan><tspan dy="4.8">]</tspan></text>
<text x="277.85" y="217.4" font-size="12.6" letter-spacing="0.32" text-anchor="middle" fill="#1a1a1a" stroke="#1a1a1a" stroke-width="0.12" id="capa"><tspan font-weight="bold">(a)</tspan> The calculation principle of spray volume</text>
<text x="278.1" y="541.1" font-size="12.6" letter-spacing="0.40" text-anchor="middle" fill="#1a1a1a" stroke="#1a1a1a" stroke-width="0.12" id="capb"><tspan font-weight="bold">(b)</tspan> Spray volume with different conditions</text>
</g>
</svg>
</body></html>
